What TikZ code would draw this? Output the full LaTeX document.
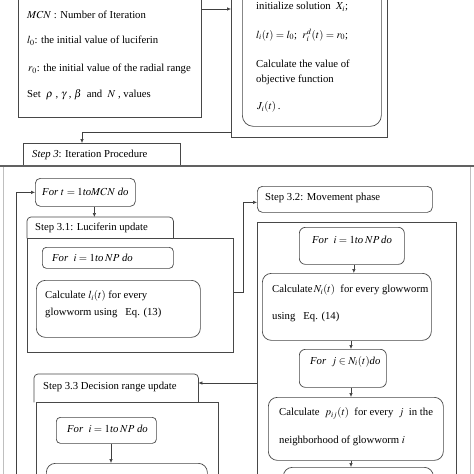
\documentclass[tikz,border=0pt]{standalone}
\usepackage{mathptmx}
\usepackage[no-math]{fontspec}
\setmainfont{Liberation Serif}
\usetikzlibrary{arrows.meta,calc}
\begin{document}
\begin{tikzpicture}[x=1pt,y=-1pt,
  box/.style={draw=black!72, line width=0.7pt, inner sep=0pt, anchor=north west},
  rbox/.style={box, rounded corners=#1},
  rbox/.default=5pt,
  tabshape/.style={inner sep=0pt, anchor=north west},
  txt/.style={inner sep=0pt, anchor=west, font=\fontsize{10.7}{15}\selectfont, align=left},
  arr/.style={draw=black!75, line width=0.6pt, -{Latex[length=4pt,width=3.5pt]}},
  line/.style={draw=black!72, line width=0.7pt}]
\useasboundingbox (0,0) rectangle (474,474);
\clip (0,0) rectangle (474,474);
\fill[white] (0,0) rectangle (474,474);

% ---- top part ----
\node[box, minimum width=183pt, minimum height=157pt] (tl) at (18,-40) {};
\node[box, minimum width=156pt, minimum height=177pt] (rbo) at (231,-40) {};
\node[rbox=11pt, minimum width=139pt, minimum height=166pt] (rbi) at (242,-40) {};

\node[txt] (t1) at (27,15) {$MCN$ : Number of Iteration};
\node[txt] (t2) at (27,41) {$l_0$: the initial value of luciferin};
\node[txt] (t3) at (28,69) {$r_0$: the initial value of the radial range};
\node[txt] (t4) at (27,95) {Set\ \ $\rho$ , $\gamma$ , $\beta$\ \ and\ \ $N$ , values};

\node[txt] (t5) at (256,7) {initialize solution\ \ $X_i$;};
\node[txt] (t6) at (256,35) {$l_i(t)=l_0$;\ \ $r_i^d(t)=r_0$;};
\node[txt] (t7) at (256,72.5) {Calculate the value of\\objective function};
\node[txt] (t8) at (257,107) {$J_i(t)$\,.};

\coordinate (c1) at (201,9);
\draw[arr] (tl.east |- c1) -- (rbo.west |- c1);

% ---- step 3 ----
\node[box, minimum width=157pt, minimum height=23pt] (s3) at (23,143) {};
\node[txt] (t9) at (32,155) {\textit{Step 3}: Iteration Procedure};
\coordinate (c2) at (82,132);
\draw[arr] (rbo.west |- c2) -- (c2) -- (c2 |- s3.north);

% big frame
\node[inner sep=0pt, anchor=north west, draw=black!25, line width=0.7pt,
      minimum width=467pt, minimum height=330pt] (frame) at (3,166) {};
\draw[black!62, line width=1.4pt] (0,166) -- (474,166);

% ---- loop start ----
\node[rbox=5pt, minimum width=100pt, minimum height=28pt] (fort) at (35,178) {};
\node[txt, anchor=center] (t10) at (fort.center) {\textit{For}\ $t=1$\textit{to}$MCN$ \textit{do}};
\coordinate (c3) at (16,490);
\draw[arr] (c3) |- (fort.west);

% ---- step 3.1 ----
\node[tabshape, minimum width=146pt, minimum height=21pt] (s31tab) at (27,217) {};
\draw[line, rounded corners=4pt] (s31tab.south west) -- (s31tab.north west) -- (s31tab.north east) -- (s31tab.south east);
\node[txt] (t11) at (35,228) {Step 3.1: Luciferin update};
\node[box, minimum width=206pt, minimum height=114pt] (s31box) at (27,238) {};
\draw[arr] ([xshift=9pt]fort.south) -- ([xshift=9pt]fort.south |- s31tab.north);

\node[rbox=4pt, minimum width=131pt, minimum height=21pt] (fori1) at (42,247) {};
\node[txt] (t12) at (52,257.5) {\textit{For}\ \ $i=1$\textit{to}\,$NP$ \textit{do}};
\node[rbox=9pt, minimum width=164pt, minimum height=57pt] (calc1) at (36,280) {};
\node[txt, font=\fontsize{10.7}{17}\selectfont] (t13) at (45,304.5) {Calculate\ $l_i(t)$ for every\\glowworm using\ \ \ Eq. (13)};

% ---- step 3.2 ----
\node[rbox=5pt, minimum width=175pt, minimum height=26pt] (s32tab) at (257,186) {};
\node[txt] (t14) at (265,198) {Step 3.2: Movement phase};
\coordinate (c5) at (243,292);
\draw[arr] (s31box.east |- c5) -- (c5) |- ([yshift=-3pt]s32tab.west);

\node[box, minimum width=199pt, minimum height=290pt] (s32box) at (257,222) {};
\node[rbox=6pt, minimum width=105pt, minimum height=37pt] (fori2) at (299,227) {};
\node[txt, anchor=center] (t15) at (352,240) {\textit{For}\ \ $i=1$\textit{to}\,$NP$\,\textit{do}};
\node[rbox=9pt, minimum width=169pt, minimum height=67pt] (calcN) at (262,273) {};
\node[txt, font=\fontsize{10.7}{27}\selectfont] (t16) at (272,303.5) {Calculate$\,N_i(t)$\ \ for every glowworm\\using\ \ \ Eq. (14)};
\node[rbox=6pt, minimum width=87pt, minimum height=38pt] (forj) at (299,349) {};
\node[txt] (t17) at (310,361.5) {\textit{For}\ \ $j\in N_i(t)$\textit{do}};
\node[rbox=9pt, minimum width=175pt, minimum height=63pt] (calcP) at (268,397) {};
\node[txt, font=\fontsize{10.7}{28}\selectfont] (t18) at (279,427) {Calculate\ \ $p_{ij}(t)$\ \ for every\ \ $j$\ \ in the\\neighborhood of glowworm\ $i$};
\node[rbox=9pt, minimum width=150pt, minimum height=40pt] (nextR) at (283,467) {};

\draw[arr] ([xshift=2pt]fori2.south) -- ([xshift=2pt]fori2.south |- calcN.north);
\coordinate (cx) at (351,0);
\draw[arr] (calcN.south -| cx) -- (forj.north -| cx);
\draw[arr] (forj.south -| cx) -- (calcP.north -| cx);
\draw[arr] (calcP.south -| cx) -- (nextR.north -| cx);

% ---- step 3.3 ----
\node[tabshape, minimum width=164pt, minimum height=28pt] (s33tab) at (34,374) {};
\draw[line, rounded corners=4pt] (s33tab.south west) -- (s33tab.north west) -- (s33tab.north east) -- (s33tab.south east);
\node[txt] (t19) at (43,387) {Step 3.3 Decision range update};
\node[box, minimum width=182pt, minimum height=100pt] (s33box) at (36,402) {};
\coordinate (c7) at (257,383);
\draw[arr] (s32box.west |- c7) -- (s33tab.east |- c7);

\node[rbox=4pt, minimum width=100pt, minimum height=26pt] (fori3) at (56,417) {};
\node[txt] (t20) at (67,429) {\textit{For}\ \ $i=1$\textit{to}\,$NP$ \textit{do}};
\node[rbox=9pt, minimum width=161pt, minimum height=40pt] (nextL) at (46,463) {};
\coordinate (cy) at (111,0);
\draw[arr] (fori3.south -| cy) -- (nextL.north -| cy);
\end{tikzpicture}
\end{document}
